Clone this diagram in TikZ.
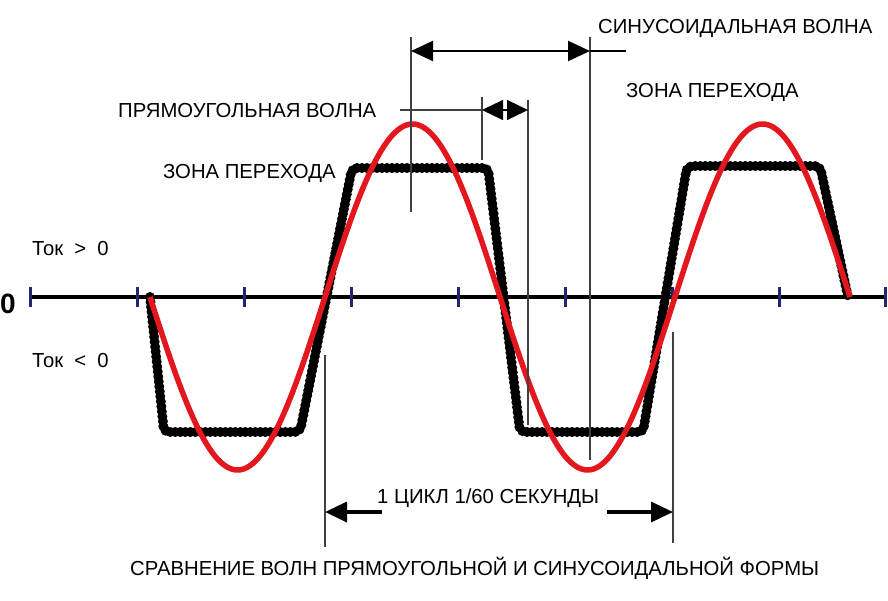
\documentclass[tikz,border=0pt]{standalone}
\usepackage{fontspec}
\setmainfont{Liberation Sans}
\usetikzlibrary{arrows.meta}
\definecolor{wred}{HTML}{E3171E}
\definecolor{tickblue}{HTML}{25256E}
\definecolor{dimgray}{HTML}{404040}
\begin{document}
\begin{tikzpicture}[x=1pt,y=-1pt,
  lbl/.style={font=\fontsize{20.3}{23}\selectfont, inner sep=0pt, anchor=base west},
  dimline/.style={draw=dimgray, line width=1.2pt},
  shaft/.style={draw=black, line width=2pt},
  bigtip/.style={-{Triangle[length=22pt,width=20pt]}},
  bothtip/.style={{Triangle[length=22pt,width=20pt]}-{Triangle[length=22pt,width=20pt]}},
  axisline/.style={line width=4pt, black},
  tickmark/.style={line width=3pt, tickblue},
  sqwave/.style={line width=7pt, black, rounded corners=5pt, line join=round},
  sqbeads/.style={line width=10pt, black, rounded corners=5pt, dash pattern=on 0pt off 5pt, line cap=round},
  sinwave/.style={line width=5.5pt, wred, line join=round}
]
\useasboundingbox[fill=white] (0,0) rectangle (888,600);

% axis
\coordinate (ax0) at (30,297);
\coordinate (ax1) at (885,297);
\draw[axisline] (ax0) -- (ax1);
\foreach \t in {30,137,244,351,458,565,672,779,885}
  \draw[tickmark] (\t,287) -- (\t,307);

% square wave
\coordinate (q0) at (150,297);
\coordinate (q1) at (164,432);
\coordinate (q2) at (300,432);
\coordinate (q3) at (352,168);
\coordinate (q4) at (488,168);
\coordinate (q5) at (520,432);
\coordinate (q6) at (643,432);
\coordinate (q7) at (687,166);
\coordinate (q8) at (820,166);
\coordinate (q9) at (848,297);
\draw[sqwave] (q0) -- (q1) -- (q2) -- (q3) -- (q4) -- (q5) -- (q6) -- (q7) -- (q8) -- (q9);
\draw[sqbeads] (q0) -- (q1) -- (q2) -- (q3) -- (q4) -- (q5) -- (q6) -- (q7) -- (q8) -- (q9);

% sine wave
\draw[sinwave] plot[domain=150:850, samples=241, smooth] (\x, {297 + 173*sin((\x-150)*1.0285714)});

% vertical dimension lines
\coordinate (v1a) at (411,37);  \coordinate (v1b) at (411,212);
\coordinate (v2a) at (590,37);  \coordinate (v2b) at (590,460);
\coordinate (v3a) at (482,97);  \coordinate (v3b) at (482,160);
\coordinate (v4a) at (528,100); \coordinate (v4b) at (528,425);
\coordinate (v5a) at (325,355); \coordinate (v5b) at (325,547);
\coordinate (v6a) at (673,332); \coordinate (v6b) at (673,543);
\foreach \v in {1,...,6} \draw[dimline] (v\v a) -- (v\v b);

% top arrow (sine wave)
\coordinate (t0) at (411,51);
\coordinate (t2) at (590,51);
\coordinate (t3) at (626,51);
\draw[shaft] (t2) -- (t3);
\draw[shaft, bothtip] (t0) -- (t2);

% small arrow (square wave)
\coordinate (s0) at (400,110);
\coordinate (s1) at (482,110);
\coordinate (s2) at (528,110);
\draw[dimline] (s0) -- (s1);
\draw[line width=1.2pt, black, {Triangle[length=21pt,width=20pt]}-{Triangle[length=21pt,width=20pt]}] (s1) -- (s2);

% bottom arrows (1 cycle)
\coordinate (b0) at (325,512);
\coordinate (b1) at (382,512);
\coordinate (b2) at (607,512);
\coordinate (b3) at (673,512);
\draw[line width=3.5pt, bigtip] (b1) -- (b0);
\draw[line width=3.5pt, bigtip] (b2) -- (b3);

% labels
\node[lbl] (sinlbl) at (598,33) {СИНУСОИДАЛЬНАЯ ВОЛНА};
\node[lbl] (zonaR) at (626,97) {ЗОНА ПЕРЕХОДА};
\node[lbl] (sqlbl) at (118,117) {ПРЯМОУГОЛЬНАЯ ВОЛНА};
\node[lbl] (zonaL) at (163,178) {ЗОНА ПЕРЕХОДА};
\node[lbl] (pos) at (32,255) {Ток\hspace{0.55em}>\hspace{0.55em}0};
\node[lbl] (neg) at (32,367) {Ток\hspace{0.55em}<\hspace{0.55em}0};
\node[lbl] (cyc) at (377,503) {1 ЦИКЛ 1/60 СЕКУНДЫ};
\node[lbl] (title) at (130,575) {СРАВНЕНИЕ ВОЛН ПРЯМОУГОЛЬНОЙ И СИНУСОИДАЛЬНОЙ ФОРМЫ};
\node[font=\fontsize{28}{30}\selectfont\bfseries, inner sep=0pt, anchor=base west] (zero) at (0,313) {0};
\end{tikzpicture}
\end{document}
